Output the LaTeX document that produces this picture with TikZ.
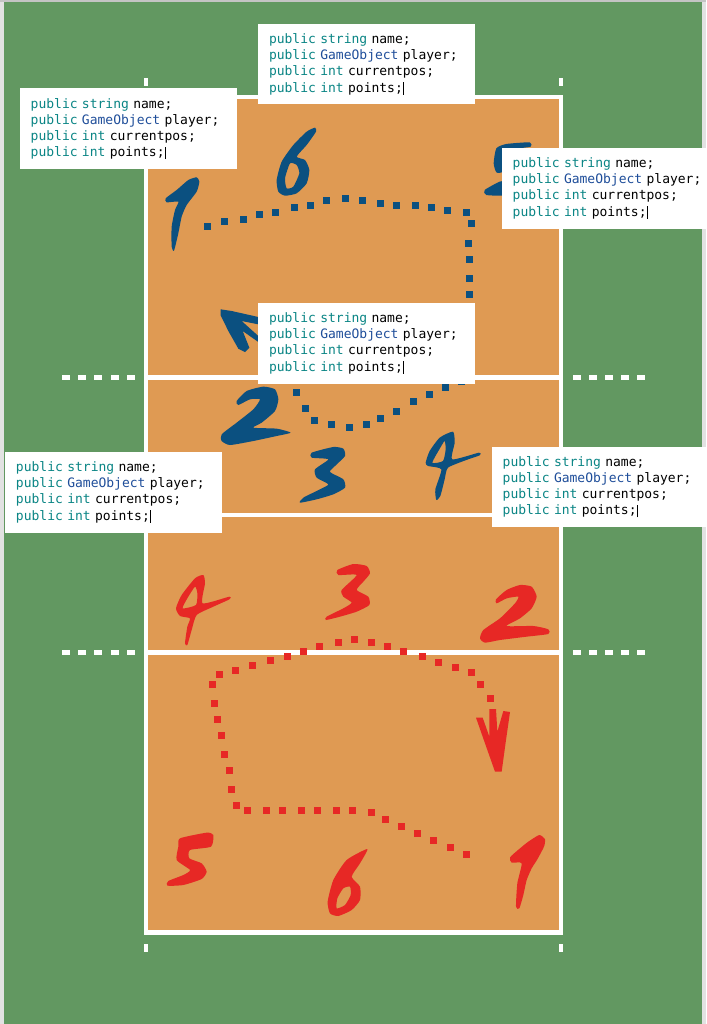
\documentclass[tikz,border=0pt]{standalone}
\usepackage{fontspec}
\setmonofont{DejaVu Sans Mono}
\definecolor{fieldgreen}{HTML}{629861}
\definecolor{courtorange}{HTML}{DF9A53}
\definecolor{teamblue}{HTML}{0B5080}
\definecolor{teamred}{HTML}{E72825}
\definecolor{edgegrey}{HTML}{E2E2E2}
\definecolor{edgetop}{HTML}{C4C4C4}
\definecolor{kwteal}{HTML}{0A8585}
\definecolor{kwblue}{HTML}{1F4E9A}
\newcommand{\kw}[1]{\textcolor{kwteal}{#1}}
\newcommand{\ty}[1]{\textcolor{kwblue}{#1}}
\newcommand{\codelines}{%
\kw{public} \kw{string} name;\\
\kw{public} \ty{GameObject} player;\\
\kw{public} \kw{int} currentpos;\\
\kw{public} \kw{int} points;\smash{\rule[-2.5pt]{0.7pt}{12.5pt}}}
\newcommand{\handdrawn}[4]{\begin{scope}[shift={(#1,#2)},x=0.33333pt,y=-0.33333pt]\fill[#3,even odd rule,line join=round] #4;\end{scope}}
\newcommand{\sm}{plot[smooth cycle,tension=.35] coordinates}
\tikzset{
  codebox/.style={anchor=north west,fill=white,inner xsep=10.7pt,inner ysep=0pt,outer sep=0pt,
    minimum height=80.5pt,align=left,text=black,
    font=\ttfamily\fontsize{13}{16.2}\selectfont},
  wide/.style={codebox,text width=195.6pt},
  narrowbox/.style={codebox,text width=193pt,inner xsep=0pt},
  whiteline/.style={fill=white},
}
\begin{document}
\begin{tikzpicture}[x=1pt,y=-1pt]
\useasboundingbox (0,0) rectangle (706,1024);
% page edges and field
\fill[edgegrey] (0,0) rectangle (706,1024);
\fill[edgetop] (0,0) rectangle (706,2);
\fill[fieldgreen] (4,2) rectangle (702,1024);
% court
\fill[courtorange] (148,99) rectangle (559,930);
\fill[whiteline] (144,95) rectangle (563,99.3);
\fill[whiteline] (144,930) rectangle (563,935);
\fill[whiteline] (144,95) rectangle (148,935);
\fill[whiteline] (559,95) rectangle (563,935);
\fill[whiteline] (148,375) rectangle (559,379.7);
\fill[whiteline] (148,513) rectangle (559,517);
\fill[whiteline] (148,650) rectangle (559,655);
% corner ticks
\foreach \tx in {144,559}{
  \fill[whiteline] (\tx,78) rectangle ++(4,8);
  \fill[whiteline] (\tx,944) rectangle ++(4,8);
}
% attack-line extensions
\foreach \dy in {375,650}{
  \foreach \dx in {62,78,94,111,127,573,589,605,621,637}{
    \fill[whiteline] (\dx,\dy) rectangle ++(7.5,5);
  }
}
% blue dotted path
\foreach \px/\py in {207.7/226.7,224/221.7,243/219.7,259.3/215,275.3/212.7,294.3/208,310.7/205.7,326.7/201,345.3/198.7,362/201,380.3/203.3,396.3/205.7,415.3/205.7,431.3/208,447.7/210.3,466.7/212.7,471/224,468.7/243,469/259.3,469/278.3,469/294.3,461/381,445.7/387.7,429.3/394.3,413.3/401.3,396.3/411.3,380.3/418,366.3/424.7,349.3/427.3,331.3/424.7,314.7/420.3,305.3/408.3,296.3/392.3}{
  \fill[teamblue] (\px-3.5,\py-3.5) rectangle ++(7,7);
}
% red dotted path
\foreach \px/\py in {490/698,480.7/684,471/672.3,455/667.7,438.7/662.7,422.3/656,403.3/651.3,387.3/646.7,371/642.3,354.7/639.3,338/642.3,319.3/646.7,303.7/651.3,287.3/656,270.3/660.7,252.3/665.3,235.7/670,219.3/674.7,212.3/684,214.7/703,217/719.3,221.7/735.3,224/754.3,229/770.3,231/789,236/805.7,247.3/810,266/810,282.3/810,301/810,317.3/810,336/810,352.3/810,371/812.3,385/819.3,401.3/826.3,417.3/833.3,433.3/840.3,450.3/847.3,466.7/854.3}{
  \fill[teamred] (\px-3.5,\py-3.5) rectangle ++(7,7);
}
% blue digits
\handdrawn{0}{0}{teamblue}{\sm {(590,532) (598,545) (590,575) (560,615) (545,650) (535,700) (522,752) (515,740) (515,680) (525,630) (535,605) (500,607) (497,595) (530,570) (565,540)}}
\handdrawn{0}{0}{teamblue}{\sm {(945,383) (948,395) (920,435) (890,470) (915,480) (928,510) (920,550) (890,580) (855,587) (835,575) (830,540) (845,485) (880,435) (920,395)} \sm {(870,490) (890,495) (898,520) (880,560) (860,565) (855,535)}}
\handdrawn{353}{0}{teamblue}{\sm {(530,427) (533,440) (490,447) (450,470) (448,515) (430,517) (422,490) (430,445) (460,432)} \sm {(395,570) (440,545) (460,545) (460,585) (400,585)}}
\handdrawn{0}{256}{teamblue}{\sm {(710,435) (740,405) (790,392) (825,400) (835,430) (825,465) (785,500) (760,515) (830,518) (872,530) (830,540) (760,555) (690,567) (665,555) (665,535) (710,500) (760,460) (780,430) (750,430) (715,447)}}
\handdrawn{0}{256}{teamblue}{\sm {(935,590) (1000,573) (1030,578) (1035,600) (1005,630) (990,648) (1030,670) (1035,695) (1000,715) (950,730) (900,740) (910,725) (960,700) (985,685) (950,665) (945,640) (985,610) (935,605)}}
\handdrawn{353}{256}{teamblue}{\sm {(300,527) (305,560) (298,610) (378,590) (380,598) (340,612) (285,635) (275,670) (262,720) (250,732) (247,700) (265,640) (225,630) (218,620) (230,585) (260,545)} \sm {(275,555) (262,575) (238,620) (270,615) (278,580)}}
\handdrawn{0}{256}{teamblue}{(662,160) -- (695,165) -- (775,183) -- (775,205) -- (725,195) -- (775,240) -- (775,258) -- (728,225) -- (748,275) -- (735,288) -- (715,278) -- (685,225) -- (662,178) -- cycle}
% red digits
\handdrawn{420}{780}{teamred}{\sm {(358,165) (375,178) (372,200) (352,238) (335,265) (320,300) (310,345) (298,385) (288,380) (292,310) (305,250) (275,248) (270,232) (300,205) (325,185)}}
\handdrawn{400}{540}{teamred}{\sm {(288,178) (320,150) (360,135) (395,140) (410,170) (395,205) (360,235) (320,258) (400,258) (445,268) (445,282) (380,290) (300,300) (255,308) (240,295) (250,270) (300,235) (345,190) (355,170) (320,175) (290,190)}}
\handdrawn{100}{540}{teamred}{\sm {(712,90) (760,72) (800,78) (810,100) (790,125) (770,150) (805,170) (808,195) (770,215) (720,230) (678,240) (680,230) (730,205) (755,188) (730,170) (725,150) (770,105) (715,105)}}
\handdrawn{100}{540}{teamred}{\sm {(310,105) (315,130) (308,190) (388,170) (388,178) (340,200) (290,225) (275,270) (262,315) (255,310) (262,260) (270,235) (240,228) (228,205) (245,165) (285,115)} \sm {(285,140) (262,175) (248,205) (288,195) (292,160)}}
\handdrawn{130}{780}{teamred}{\sm {(150,175) (230,158) (250,165) (243,200) (180,210) (178,235) (215,250) (230,275) (215,297) (160,315) (112,317) (115,303) (160,285) (180,270) (140,240) (145,200)}}
\handdrawn{130}{780}{teamred}{\sm {(712,207) (690,250) (665,290) (690,320) (690,360) (665,390) (625,408) (600,400) (593,365) (610,300) (650,240)} \sm {(640,325) (622,355) (620,385) (645,375) (662,345) (660,320)}}
\handdrawn{400}{540}{teamred}{(228,533) -- (248,533) -- (268,590) -- (268,507) -- (288,507) -- (292,575) -- (310,513) -- (330,516) -- (318,600) -- (305,695) -- (285,695) -- (255,610) -- cycle}
% code boxes
\node[wide] (boxtop) at (258.3,24) {\codelines};
\node[wide] (boxleft) at (20,88.5) {\codelines};
\node[wide] (boxmid) at (258.3,303) {\codelines};
\node[wide] (boxlow) at (5.3,452) {\codelines};
\fill[white] (502,148) rectangle (706,229);
\node[narrowbox,anchor=north west] (boxright) at (512.7,148) {\codelines};
\fill[white] (492,446.7) rectangle (706,527);
\node[narrowbox,anchor=north west] (boxrightlow) at (502.7,446.7) {\codelines};
\end{tikzpicture}
\end{document}
